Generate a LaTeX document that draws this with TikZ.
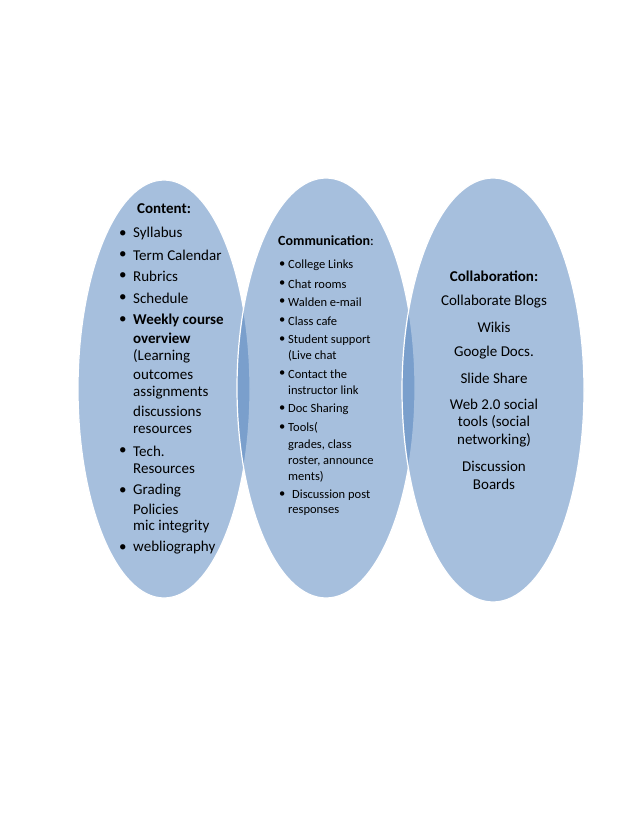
\documentclass[tikz,border=0pt]{standalone}
\usepackage{fontspec}
\setmainfont{Carlito}
\begin{document}
\begin{tikzpicture}[x=1pt,y=-1pt,
  ell/.style={fill={rgb,255:red,79;green,129;blue,189},fill opacity=0.5,draw=white,line width=1.2pt},
  ta/.style={anchor=west,inner sep=0pt,font=\fontsize{15}{18}\selectfont},
  tb/.style={anchor=west,inner sep=0pt,font=\fontsize{12.5}{15}\selectfont},
  tc/.style={anchor=center,inner sep=0pt,font=\fontsize{15}{18}\selectfont}]
\useasboundingbox (0,0) rectangle (638,826);
\fill[white] (0,0) rectangle (638,826);
\path[ell] (164,389) ellipse [x radius=86,y radius=209];
\path[ell] (326,388) ellipse [x radius=89,y radius=210];
\path[ell] (493,390) ellipse [x radius=91,y radius=212];
% ellipse 1
\node[ta] (c0) at (137,209) {\textbf{Content:}};
\foreach \y/\b/\t [count=\i] in {234/1/Syllabus,255/1/Term Calendar,276/1/Rubrics,298/1/Schedule,320/1/\textbf{Weekly course},338/0/\textbf{overview},356/0/(Learning,375/0/outcomes/,393/0/assignments/,411/0/discussions/,430/0/resources,451/1/Tech.,469/0/Resources,491/1/Grading,509/0/Policies/acade,527/0/mic integrity,548/1/webliography}{
  \node[ta] (a\i) at (133,\y) {\t};
  \ifnum\b=1 \node[ta] (ab\i) at (119,\y) {•};\fi
}
% ellipse 2
\node[tb,font=\fontsize{14}{16}\selectfont] (m0) at (278,241) {\textbf{Communication}:};
\foreach \y/\b/\t [count=\i] in {265/1/College Links,284/1/Chat rooms,302/1/Walden e-mail,321/1/Class cafe,340/1/Student support,356/0/(Live chat/email),374/1/Contact the,390/0/instructor link,409/1/Doc Sharing,428/1/Tools(,445/0/{grades, class},461/0/{roster, announce},477/0/ments),495/2/Discussion post,511/0/responses}{
  \ifnum\b=2 \node[tb] (b\i) at (292,\y) {\t};\else \node[tb] (b\i) at (288,\y) {\t};\fi
  \ifnum\b>0 \node[tb] (bb\i) at (279,\y) {•};\fi
}
% ellipse 3
\node[tc] (d0) at (494,276) {\textbf{Collaboration:}};
\foreach \y/\t [count=\i] in {302/Collaborate Blogs,327/Wikis,353/Google Docs.,378/Slide Share,404/Web 2.0 social,422/tools (social,440/networking),466/Discussion,484/Boards}{
  \node[tc] (d\i) at (494,\y) {\t};
}
\end{tikzpicture}
\end{document}
